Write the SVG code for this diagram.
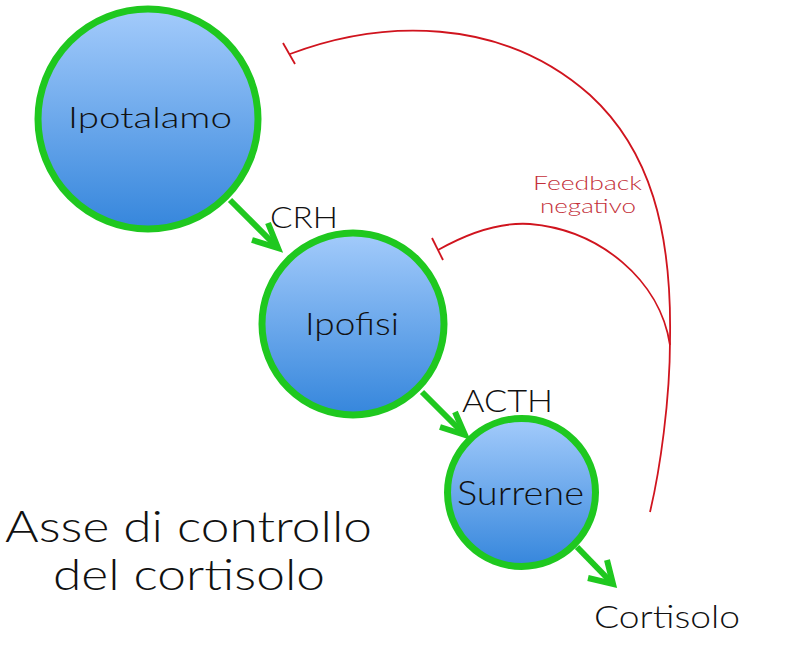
<svg xmlns="http://www.w3.org/2000/svg" width="800" height="667" viewBox="0 0 800 667">
<defs>
<linearGradient id="blue" x1="0" y1="0" x2="0" y2="1">
<stop offset="0" stop-color="#a3cbfb"/>
<stop offset="1" stop-color="#3586dc"/>
</linearGradient>
<style>
.node{fill:url(#blue);stroke:#1fc81f;stroke-width:7}
.lbl{font-family:Lato,"Open Sans","Liberation Sans",sans-serif;font-weight:300;fill:#111;text-anchor:start}
.g{fill:none;stroke:#1fc81f;stroke-width:6;stroke-linecap:butt;stroke-linejoin:miter}
.r{fill:none;stroke:#d0141e;stroke-width:1.8}
.rt{font-family:Lato,"Open Sans","Liberation Sans",sans-serif;font-weight:300;fill:#c4303a}
</style>
</defs>
<rect width="800" height="667" fill="#fff"/>
<g id="connectors">
<path class="g" d="M230 200 L276 246"/>
<path class="g" d="M252 240 L278 248 L268 223"/>
<path class="g" d="M422 392 L463 433"/>
<path class="g" d="M440 427 L465 435 L455 412"/>
<path class="g" d="M577 547 L611 582"/>
<path class="g" d="M588 578 L613 584 L607 560"/>
<path class="r" d="M290 54 C380 20, 500 15, 590 95 C650 150, 672 230, 670 340 C670 400, 660 470, 650 512"/>
<path class="r" d="M438 250 C470 232, 500 222, 530 224 C600 230, 660 280, 670 345"/>
<path class="r" d="M283 43 L295 64"/>
<path class="r" d="M432 238 L443 260"/>
</g>
<g id="ipotalamo">
<circle class="node" cx="148" cy="119" r="110"/>
<text class="lbl" x="68" y="128" font-size="30" textLength="164" lengthAdjust="spacingAndGlyphs">Ipotalamo</text>
</g>
<g id="ipofisi">
<circle class="node" cx="353" cy="324" r="91"/>
<text class="lbl" x="305" y="335" font-size="31" textLength="94" lengthAdjust="spacingAndGlyphs">Ipofisi</text>
</g>
<g id="surrene">
<circle class="node" cx="521.5" cy="492.5" r="74"/>
<text class="lbl" x="457" y="505" font-size="33" textLength="127" lengthAdjust="spacingAndGlyphs">Surrene</text>
</g>
<g id="labels">
<text class="lbl" x="270" y="228" font-size="29" textLength="68" lengthAdjust="spacingAndGlyphs">CRH</text>
<text class="lbl" x="462" y="412" font-size="32" textLength="91" lengthAdjust="spacingAndGlyphs">ACTH</text>
<text class="lbl" x="594" y="628" font-size="31" textLength="146" lengthAdjust="spacingAndGlyphs">Cortisolo</text>
<text class="rt" x="533" y="190" font-size="19" textLength="109" lengthAdjust="spacingAndGlyphs">Feedback</text>
<text class="rt" x="540" y="213" font-size="19" textLength="96" lengthAdjust="spacingAndGlyphs">negativo</text>
<text class="lbl" x="5" y="542" font-size="44" textLength="367" lengthAdjust="spacingAndGlyphs">Asse di controllo</text>
<text class="lbl" x="53" y="590" font-size="44" textLength="272" lengthAdjust="spacingAndGlyphs">del cortisolo</text>
</g>
</svg>
